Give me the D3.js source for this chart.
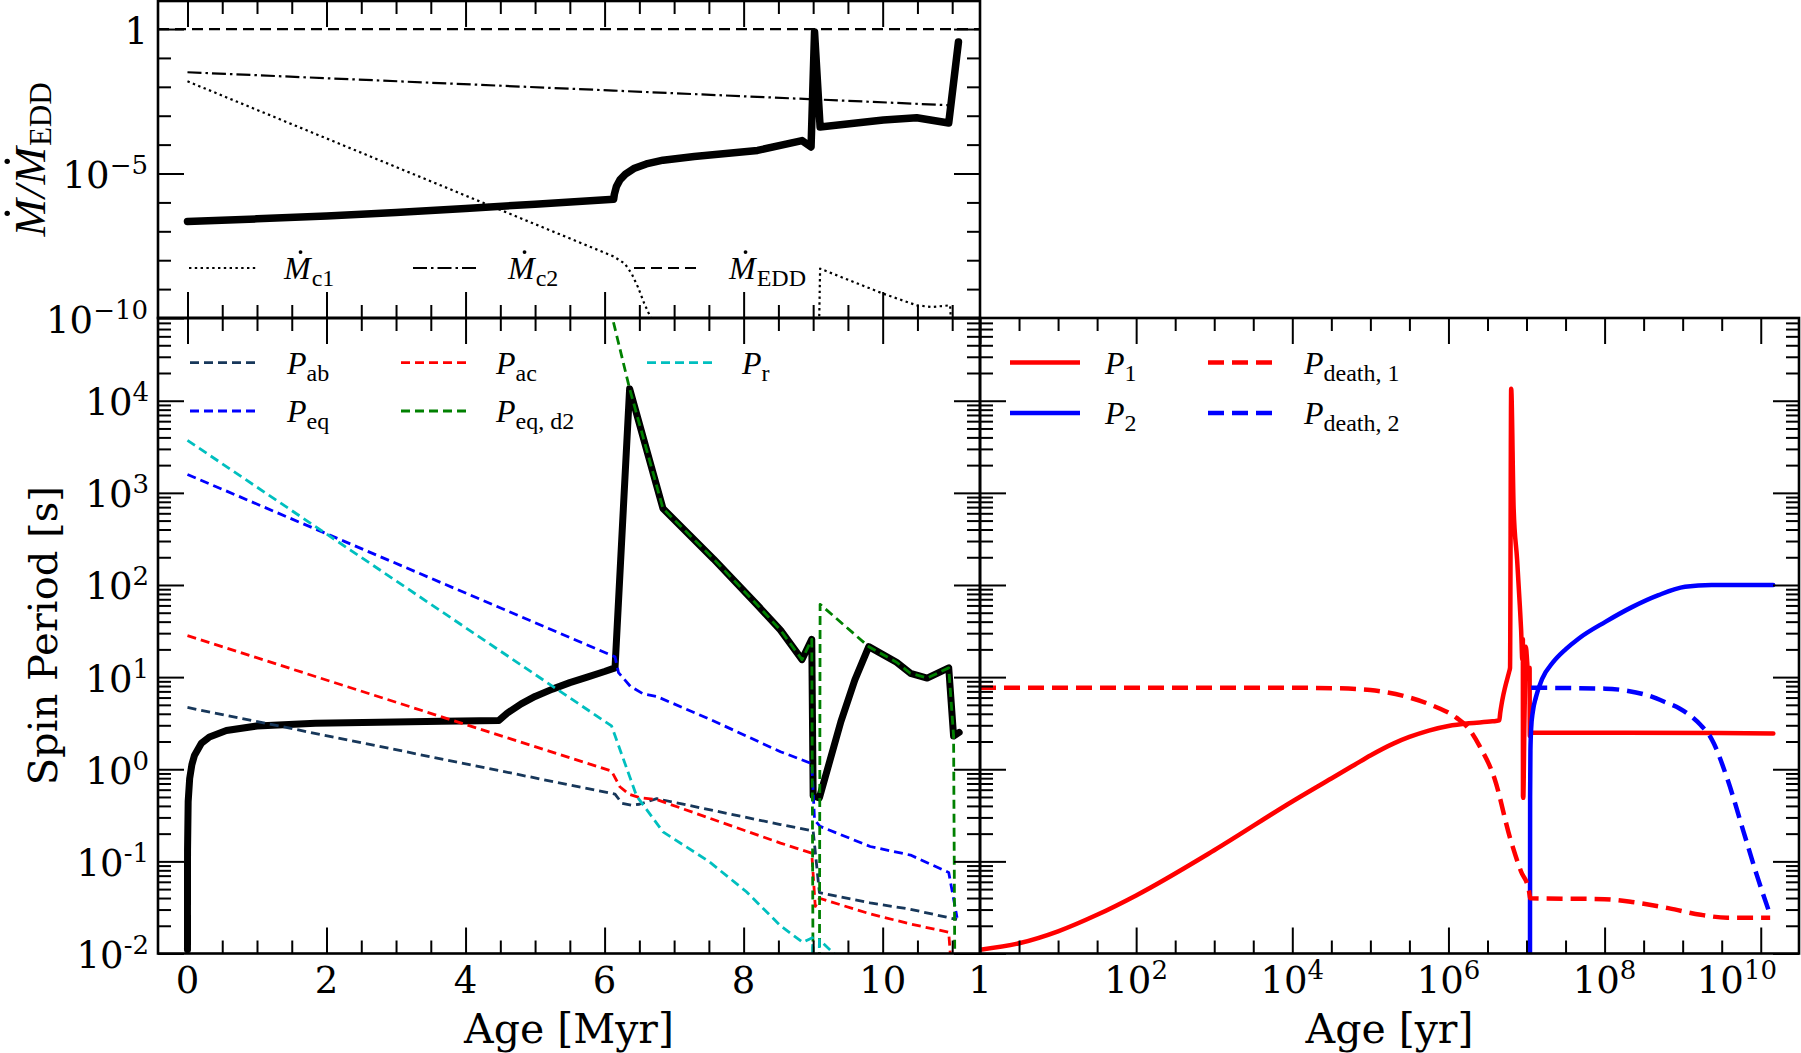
<!DOCTYPE html>
<html><head><meta charset="utf-8">
<script src="https://cdn.jsdelivr.net/npm/d3@7"></script>
<style>body{margin:0;background:#fff}</style>
</head><body>
<svg id="c" width="1801" height="1053" xmlns="http://www.w3.org/2000/svg"></svg>
<script>
// ---------------- DATA ----------------
// Top panel: accretion rate ratio vs age [Myr]
const mdotTime  = [0, 1, 2, 3, 4, 5, 6.13, 6.14, 6.17, 6.22, 6.3, 6.42, 6.6, 6.84, 7.29, 8.2, 8.84, 8.97, 9.02, 9.1, 10.01, 10.49, 10.95, 11.09];
const mdotRatio = [2.2e-7, 2.7e-7, 3.4e-7, 4.5e-7, 6.2e-7, 8.7e-7, 1.29e-6, 1.9e-6, 3.55e-6, 6.0e-6, 9.5e-6, 1.48e-5, 2.14e-5, 2.9e-5, 3.9e-5, 6.3e-5, 1.38e-4, 8.3e-5, 0.79, 4.1e-4, 7.1e-4, 8.5e-4, 5.6e-4, 0.355];
const mc1Time  = [0, 6.13, 6.29, 6.39, 6.48, 6.57, 6.66, 6.8, 9.08, 9.1, 10.01, 10.49, 10.7, 10.97, 11.0];
const mc1Ratio = [1.55e-2, 1.35e-8, 7.6e-9, 3.4e-9, 1.17e-9, 3.2e-10, 1.07e-10, 1e-11, 1e-11, 5.1e-9, 6.9e-10, 2.75e-10, 2.4e-10, 2.75e-10, 1e-11];
const mc2Time  = [0, 6.13, 9.0, 10.97];
const mc2Ratio = [3.2e-2, 7.4e-3, 3.7e-3, 2.3e-3];
const eddRatio = 1;

// Bottom-left: characteristic periods [s] vs age [Myr]
const pabTime = [0, 6.15, 6.25, 6.39, 6.5, 6.75, 8.53, 9.0, 9.09, 9.82, 10.40, 11.07];
const pabVal  = [4.68, 0.537, 0.427, 0.407, 0.417, 0.479, 0.251, 0.214, 0.0457, 0.0355, 0.0302, 0.0234];
const peqTime = [0, 6.15, 6.2, 6.37, 6.55, 6.75, 7.52, 8.53, 8.98, 9.02, 9.1, 9.82, 10.40, 10.95, 11.07];
const peqVal  = [1585, 16.6, 11.2, 7.94, 6.61, 6.17, 3.47, 1.55, 1.15, 0.282, 0.240, 0.145, 0.117, 0.0759, 0.0245];
const pacTime = [0, 6.10, 6.22, 6.35, 6.51, 6.75, 8.53, 8.98, 9.03, 9.06, 9.09, 9.82, 10.40, 10.95, 11.02];
const pacVal  = [28.2, 0.955, 0.646, 0.537, 0.490, 0.468, 0.158, 0.123, 0.0324, 0.0355, 0.0398, 0.0269, 0.0209, 0.0170, 0.00316];
const peqd2Time = [6.08, 6.36, 6.84, 7.57, 8.2, 8.53, 8.84, 8.98, 9.0, 9.09, 9.1, 9.8, 10.2, 10.4, 10.64, 10.95, 11.02, 11.04];
const peqd2Val  = [1e5, 13490, 676, 190.5, 60.3, 32.4, 15.5, 25.7, 0.00316, 0.00316, 61.7, 21.4, 14.5, 11.0, 9.77, 12.6, 2.29, 0.00316];
const prTime = [0, 6.10, 6.46, 6.84, 7.5, 8.04, 8.53, 8.85, 8.99, 9.01, 9.08, 9.09, 9.34, 9.4];
const prVal  = [3715, 2.95, 0.513, 0.209, 0.1, 0.0468, 0.02, 0.0132, 0.0148, 0.00316, 0.00316, 0.0141, 0.00933, 0.005];

// Spin period of the first NS, age in yr (used in both bottom panels)
const p1Age = [1, 3.16, 10, 31.6, 100, 1e3, 1e4, 3.16e4, 6.3e4, 1e5, 2e5, 3.16e5, 5.6e5, 1e6, 1.84e6, 3.66e6, 4.48e6, 4.6e6, 4.8e6, 5.0e6, 5.25e6, 5.5e6, 5.75e6, 6.0e6, 6.15e6, 6.36e6, 6.84e6, 7.57e6, 8.2e6, 8.53e6, 8.84e6, 8.98e6, 9.0e6, 9.09e6, 9.4e6, 9.6e6, 9.8e6, 10.2e6, 10.4e6, 10.64e6, 10.95e6, 11.02e6, 11.1e6, 1.45e10];
const p1Val = [0.011, 0.0129, 0.0174, 0.0263, 0.0427, 0.132, 0.447, 0.794, 1.12, 1.41, 1.91, 2.24, 2.63, 2.95, 3.16, 3.31, 3.39, 4.07, 5.13, 6.17, 7.41, 8.71, 10.0, 11.5, 12.6, 13490, 676, 190.5, 60.3, 32.4, 15.5, 25.7, 0.513, 0.490, 3.31, 9.33, 21.4, 14.5, 11.0, 9.77, 12.6, 2.29, 2.51, 2.45];
const leftMaxAge = 11.1e6;
const p2Age = [1.107e7, 1.112e7, 1.122e7, 1.148e7, 1.202e7, 1.318e7, 1.585e7, 2.188e7, 3.162e7, 4.677e7, 1.023e8, 2.239e8, 4.898e8, 1.072e9, 2.344e9, 1.445e10];
const p2Val = [0.00316, 0.5, 1.58, 2.82, 4.17, 6.03, 9.55, 14.5, 20, 26.3, 39.8, 57.5, 77.6, 95.5, 100, 100];
const pd1Age = [1, 1e4, 3.16e4, 1e5, 2.82e5, 6.31e5, 1.26e6, 1.78e6, 2.51e6, 3.89e6, 6.17e6, 8.51e6, 1.07e7, 1.12e7, 1e8, 2.24e8, 6.76e8, 1.7e9, 3.72e9, 1.32e10];
const pd1Val = [7.67, 7.67, 7.59, 7.24, 6.17, 4.9, 3.63, 2.82, 1.78, 0.794, 0.178, 0.0776, 0.049, 0.0398, 0.0389, 0.0363, 0.0309, 0.0263, 0.0245, 0.0245];
const pd2Age = [1.148e7, 1.023e8, 2.0e8, 3.63e8, 6.31e8, 9.12e8, 1.26e9, 1.70e9, 2.34e9, 3.72e9, 6.03e9, 8.91e9, 1.32e10];
const pd2Val = [7.67, 7.5, 7.08, 6.31, 5.25, 4.57, 3.8, 3.02, 2.14, 0.794, 0.209, 0.0708, 0.0263];

// Tick labels
const myrTicks = [0, 2, 4, 6, 8, 10];
const periodTicks = [[-2,"-2"],[-1,"-1"],[0,"0"],[1,"1"],[2,"2"],[3,"3"],[4,"4"]];
const ratioTicks = [[0,null],[-5,"\u22125"],[-10,"\u221210"]];
const yrTicks = [[0,null],[2,"2"],[4,"4"],[6,"6"],[8,"8"],[10,"10"]];

// ---------------- LAYOUT ----------------
const svg = d3.select("#c");
const X0 = 158, X1 = 980, X2 = 1799, Y0 = 1, Y1 = 318, Y2 = 953.5;
const xT = d3.scaleLinear().domain([-0.424, 11.40]).range([X0, X1]);
const yTop = d3.scaleLog().domain([1e-10, Math.pow(10, 0.97)]).range([Y1, Y0]);
const yP = d3.scaleLog().domain([1e-2, Math.pow(10, 4.898)]).range([Y2, Y1]);
const xA = d3.scaleLog().domain([1, Math.pow(10, 10.49)]).range([X1, X2]);

const defs = svg.append("defs");
function clip(id, x, y, w, h) {
  defs.append("clipPath").attr("id", id).append("rect").attr("x", x).attr("y", y).attr("width", w).attr("height", h);
}
clip("cTop", X0, Y0, X1 - X0, Y1 - Y0);
clip("cBL", X0, Y1, X1 - X0, Y2 - Y1);
clip("cBR", X1, Y1, X2 - X1, Y2 - Y1);

const NAVY = "#17375a", BLUE = "#0000ff", RED = "#ff0000", CYAN = "#00bfbf", GREEN = "#008000";
const styles = {
  mdot: {stroke: "#000", w: 7.5, dash: null},
  mc1: {stroke: "#000", w: 2.2, dash: "2.4,3.4"},
  mc2: {stroke: "#000", w: 2.2, dash: "14,4,2.5,4"},
  edd: {stroke: "#000", w: 2.2, dash: "11,6"},
  p1left: {stroke: "#000", w: 7, dash: null},
  pab: {stroke: NAVY, w: 2.8, dash: "9,5"},
  peq: {stroke: BLUE, w: 2.8, dash: "9,5"},
  pac: {stroke: RED, w: 2.8, dash: "9,5"},
  peqd2: {stroke: GREEN, w: 2.8, dash: "9,5"},
  pr: {stroke: CYAN, w: 2.8, dash: "9,5"},
  p1: {stroke: RED, w: 4.5, dash: null, smooth: true},
  p2: {stroke: BLUE, w: 4.5, dash: null, smooth: true},
  pd1: {stroke: RED, w: 4.5, dash: "16,8", smooth: true},
  pd2: {stroke: BLUE, w: 4.5, dash: "16,8", smooth: true}
};
function applyStyle(sel, s) {
  sel.attr("fill", "none").attr("stroke", s.stroke).attr("stroke-width", s.w)
    .attr("stroke-linejoin", "round").attr("stroke-linecap", s.dash ? "butt" : "round");
  if (s.dash) sel.attr("stroke-dasharray", s.dash);
  return sel;
}
function drawSeries(g, xs, ys, xScale, yScale, s) {
  const line = d3.line().x(d => xScale(d[0])).y(d => yScale(d[1]));
  if (s.smooth) line.curve(d3.curveMonotoneX);
  applyStyle(g.append("path").attr("d", line(d3.zip(xs, ys))), s);
}

// ---- top panel ----
const gTop = svg.append("g").attr("clip-path", "url(#cTop)");
drawSeries(gTop, mdotTime, mdotRatio, xT, yTop, styles.mdot);
drawSeries(gTop, mc1Time, mc1Ratio, xT, yTop, styles.mc1);
drawSeries(gTop, mc2Time, mc2Ratio, xT, yTop, styles.mc2);
applyStyle(gTop.append("line").attr("x1", X0).attr("x2", X1).attr("y1", yTop(eddRatio)).attr("y2", yTop(eddRatio)), styles.edd);

// ---- bottom left panel ----
const gBL = svg.append("g").attr("clip-path", "url(#cBL)");
const leftIdx = p1Age.map((a, i) => i).filter(i => p1Age[i] <= leftMaxAge);
drawSeries(gBL, leftIdx.map(i => p1Age[i] / 1e6), leftIdx.map(i => p1Val[i]), xT, yP, styles.p1left);
drawSeries(gBL, pabTime, pabVal, xT, yP, styles.pab);
drawSeries(gBL, peqTime, peqVal, xT, yP, styles.peq);
drawSeries(gBL, pacTime, pacVal, xT, yP, styles.pac);
drawSeries(gBL, peqd2Time, peqd2Val, xT, yP, styles.peqd2);
drawSeries(gBL, prTime, prVal, xT, yP, styles.pr);

// ---- bottom right panel ----
const gBR = svg.append("g").attr("clip-path", "url(#cBR)");
drawSeries(gBR, p1Age, p1Val, xA, yP, styles.p1);
drawSeries(gBR, p2Age, p2Val, xA, yP, styles.p2);
drawSeries(gBR, pd1Age, pd1Val, xA, yP, styles.pd1);
drawSeries(gBR, pd2Age, pd2Val, xA, yP, styles.pd2);

// ---------------- AXES / TICKS ----------------
const MAJ = 26, MIN = 13;
function tickAxis(fn, scale, values, size, tx, ty) {
  const g = svg.append("g").attr("transform", `translate(${tx},${ty})`)
    .call(fn(scale).tickValues(values).tickSize(-size).tickFormat(""));
  g.select(".domain").remove();
  g.selectAll("line").attr("stroke", "#000").attr("stroke-width", 2);
}
const myrMinor = d3.range(0.5, 11.01, 0.5).filter(v => v % 2 !== 0);
const decadesP = d3.range(-2, 5).map(e => Math.pow(10, e));
const minorP = [];
d3.range(-2, 5).forEach(e => d3.range(2, 10).forEach(k => { const v = k * Math.pow(10, e); if (v <= yP.domain()[1]) minorP.push(v); }));
const topMajor = [1e-10, 1e-5, 1];
const topMinor = d3.range(-9, 0).filter(e => e !== -5).map(e => Math.pow(10, e));
const yrMajor = d3.range(0, 11, 2).map(e => Math.pow(10, e));
const yrMinor = d3.range(0.5, 10.01, 0.5).filter(e => e % 2 !== 0).map(e => Math.pow(10, e));

// top panel
tickAxis(d3.axisTop, xT, myrTicks, MAJ, 0, Y0);
tickAxis(d3.axisTop, xT, myrMinor, MIN, 0, Y0);
tickAxis(d3.axisBottom, xT, myrTicks, MAJ, 0, Y1);
tickAxis(d3.axisBottom, xT, myrMinor, MIN, 0, Y1);
tickAxis(d3.axisLeft, yTop, topMajor, MAJ, X0, 0);
tickAxis(d3.axisLeft, yTop, topMinor, MIN, X0, 0);
tickAxis(d3.axisRight, yTop, topMajor, MAJ, X1, 0);
tickAxis(d3.axisRight, yTop, topMinor, MIN, X1, 0);
// bottom left
tickAxis(d3.axisTop, xT, myrTicks, MAJ, 0, Y1);
tickAxis(d3.axisTop, xT, myrMinor, MIN, 0, Y1);
tickAxis(d3.axisBottom, xT, myrTicks, MAJ, 0, Y2);
tickAxis(d3.axisBottom, xT, myrMinor, MIN, 0, Y2);
tickAxis(d3.axisLeft, yP, decadesP, MAJ, X0, 0);
tickAxis(d3.axisLeft, yP, minorP, MIN, X0, 0);
tickAxis(d3.axisRight, yP, decadesP, MAJ, X1, 0);
tickAxis(d3.axisRight, yP, minorP, MIN, X1, 0);
// bottom right
tickAxis(d3.axisTop, xA, yrMajor, MAJ, 0, Y1);
tickAxis(d3.axisTop, xA, yrMinor, MIN, 0, Y1);
tickAxis(d3.axisBottom, xA, yrMajor, MAJ, 0, Y2);
tickAxis(d3.axisBottom, xA, yrMinor, MIN, 0, Y2);
tickAxis(d3.axisLeft, yP, decadesP, MAJ, X1, 0);
tickAxis(d3.axisLeft, yP, minorP, MIN, X1, 0);
tickAxis(d3.axisRight, yP, decadesP, MAJ, X2, 0);
tickAxis(d3.axisRight, yP, minorP, MIN, X2, 0);

// frames
function frame(x, y, w, h) {
  svg.append("rect").attr("x", x).attr("y", y).attr("width", w).attr("height", h)
    .attr("fill", "none").attr("stroke", "#000").attr("stroke-width", 2.6);
}
frame(X0, Y0, X1 - X0, Y1 - Y0);
frame(X0, Y1, X1 - X0, Y2 - Y1);
frame(X1, Y1, X2 - X1, Y2 - Y1);

// ---------------- TICK LABELS ----------------
const TF = "DejaVu Serif";
function supText(x, y, base, sup, anchor) {
  const t = svg.append("text").attr("x", x).attr("y", y).attr("text-anchor", anchor)
    .attr("font-family", TF).attr("font-size", 37).attr("fill", "#000");
  t.append("tspan").text(base);
  if (sup !== null) t.append("tspan").attr("dy", -14).attr("font-size", 26).text(sup);
  return t;
}
myrTicks.forEach(v => supText(xT(v), 993, String(v), null, "middle"));
yrTicks.forEach(([e, s]) => {
  // the last label is kept inside the figure, as in the original
  if (e === 10) supText(1777, 993, "10", s, "end");
  else supText(xA(Math.pow(10, e)), 993, s === null ? "1" : "10", s, "middle");
});
periodTicks.forEach(([e, s]) => supText(149, yP(Math.pow(10, e)) + 14.5, "10", s, "end"));
ratioTicks.forEach(([e, s]) => supText(148, yTop(Math.pow(10, e)) + 14.5, s === null ? "1" : "10", s, "end"));

// axis titles
svg.append("text").attr("x", (X0 + X1) / 2).attr("y", 1043).attr("text-anchor", "middle")
  .attr("font-family", TF).attr("font-size", 41).text("Age [Myr]");
svg.append("text").attr("x", (X1 + X2) / 2).attr("y", 1043).attr("text-anchor", "middle")
  .attr("font-family", TF).attr("font-size", 41).text("Age [yr]");
svg.append("text").attr("transform", `translate(57,${(Y1 + Y2) / 2}) rotate(-90)`).attr("text-anchor", "middle")
  .attr("font-family", TF).attr("font-size", 40).text("Spin Period [s]");

// math-like text: parts laid out sequentially
const MF = "Liberation Serif";
function mathText(parent, x, y, parts, anchor) {
  const g = parent.append("g");
  let cx = 0;
  parts.forEach(p => {
    const t = g.append("text").attr("x", cx).attr("y", p.dy || 0)
      .attr("font-family", MF).attr("font-size", p.size)
      .attr("font-style", p.italic ? "italic" : "normal").attr("fill", "#000").text(p.t);
    const w = t.node().getComputedTextLength();
    if (p.dot) g.append("circle").attr("cx", cx + w * 0.62).attr("cy", -p.size * 0.84).attr("r", p.size * 0.06).attr("fill", "#000");
    cx += w + (p.kern || 0);
  });
  const off = anchor === "middle" ? -cx / 2 : anchor === "end" ? -cx : 0;
  g.attr("transform", `translate(${x + off},${y})`);
  return g;
}
// y label of top panel
const gyl = svg.append("g").attr("transform", `translate(45,${(Y0 + Y1) / 2}) rotate(-90)`);
mathText(gyl, 0, 0, [
  {t: "M", italic: true, dot: true, size: 45, kern: 1},
  {t: "/", italic: true, size: 45, kern: 1},
  {t: "M", italic: true, dot: true, size: 45, kern: 1},
  {t: "EDD", size: 31, dy: 6}
], "middle");

// ---------------- LEGENDS ----------------
const LS = 32, SS = 24, SUBDY = 7;
function legendEntry(lx, ly, len, style, tx, parts) {
  applyStyle(svg.append("line").attr("x1", lx).attr("x2", lx + len).attr("y1", ly).attr("y2", ly), style)
    .attr("stroke-linecap", "butt");
  mathText(svg, tx, ly + 11, parts, "start");
}
const Mdot = (sub) => [{t: "M", italic: true, dot: true, size: LS, kern: 1}, {t: sub, size: SS, dy: SUBDY}];
const Psub = (sub) => [{t: "P", italic: true, size: LS, kern: 0}, {t: sub, size: SS, dy: SUBDY}];
legendEntry(189, 268, 67, styles.mc1, 284, Mdot("c1"));
legendEntry(413, 268, 67, styles.mc2, 508, Mdot("c2"));
legendEntry(634, 268, 64, styles.edd, 729, Mdot("EDD"));

legendEntry(190, 362.7, 65, styles.pab, 287, Psub("ab"));
legendEntry(190, 411, 65, styles.peq, 287, Psub("eq"));
legendEntry(401, 362.7, 66, styles.pac, 496, Psub("ac"));
legendEntry(401, 411, 66, styles.peqd2, 496, Psub("eq, d2"));
legendEntry(647, 362.7, 66, styles.pr, 742, Psub("r"));

legendEntry(1010, 362.5, 70, styles.p1, 1105, Psub("1"));
legendEntry(1010, 413, 70, styles.p2, 1105, Psub("2"));
legendEntry(1208, 362.5, 68, styles.pd1, 1304, Psub("death, 1"));
legendEntry(1208, 413, 68, styles.pd2, 1304, Psub("death, 2"));
</script>
</body></html>
